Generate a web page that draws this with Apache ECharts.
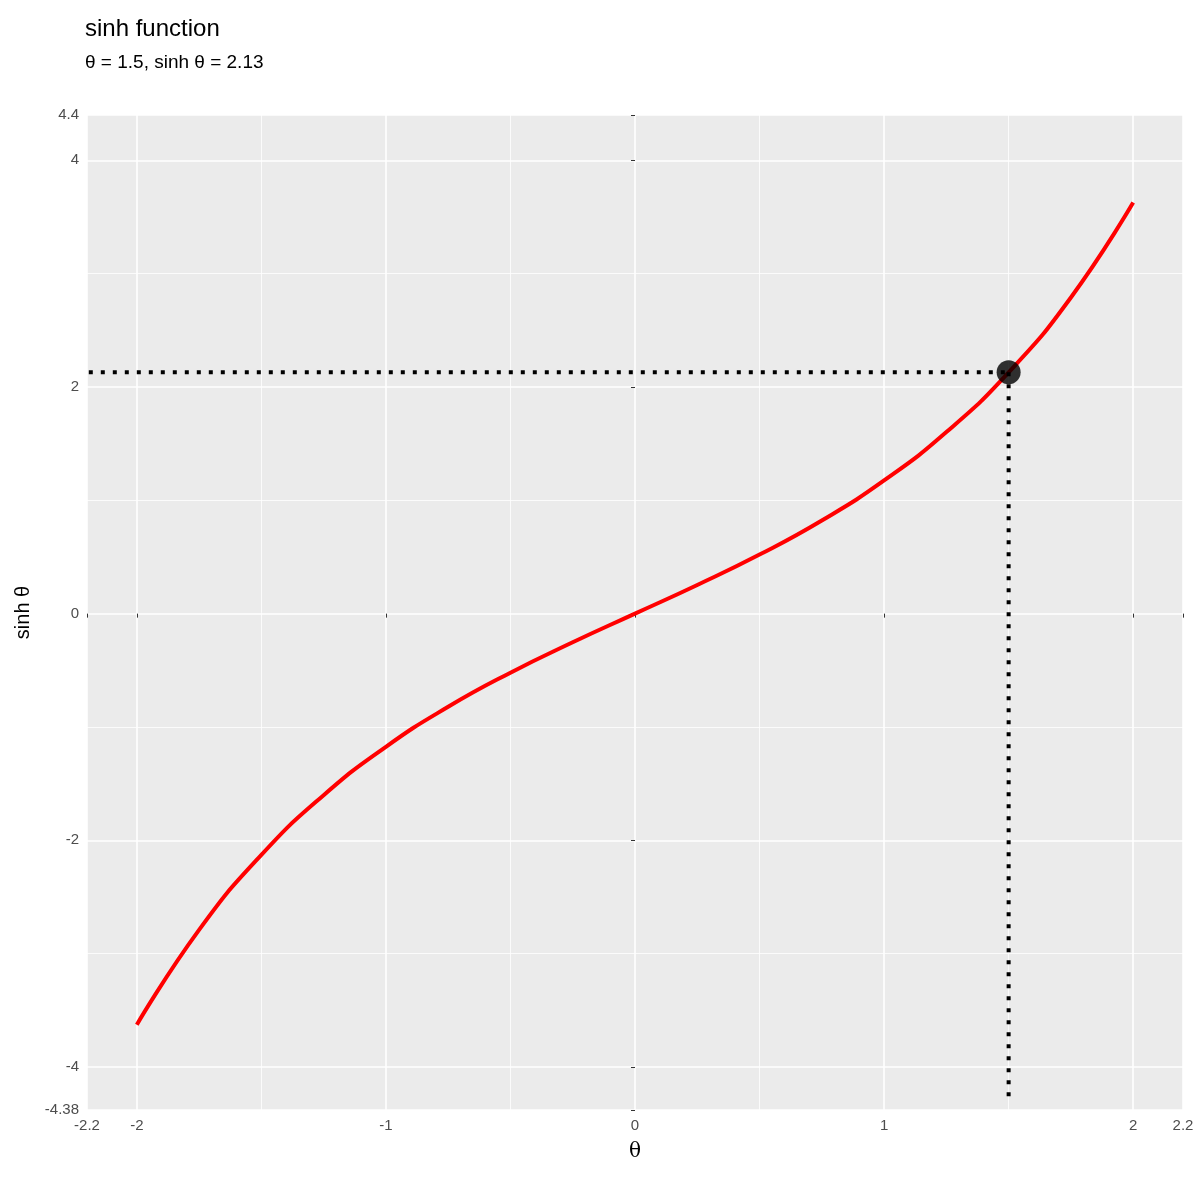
<!DOCTYPE html>
<html><head><meta charset="utf-8">
<script src="https://cdn.jsdelivr.net/npm/echarts@6/dist/echarts.min.js"></script>
<style>html,body{margin:0;padding:0;background:#fff}#c{width:1200px;height:1200px}</style>
</head><body><div id="c"></div>
<script>
const thetaVals = [-2,-1.75,-1.5,-1.25,-1,-0.75,-0.5,-0.25,0,0.25,0.5,0.75,1,1.25,1.5,1.75,2];
const sinhVals = [-3.627,-2.790,-2.129,-1.602,-1.175,-0.822,-0.521,-0.253,0,0.253,0.521,0.822,1.175,1.602,2.129,2.790,3.627];
const pointTheta = 1.5, pointSinh = 2.13;
const hLineX = [-2.53, 1.5];
const vLineY = [2.13, -4.33];
const titleText = 'sinh function';
const subText = 'θ = 1.5, sinh θ = 2.13';

const chart = echarts.init(document.getElementById('c'));
const lbl = {color:'#4D4D4D', fontSize:15, fontFamily:'Liberation Sans'};
chart.setOption({
  animation:false,
  title:{text:titleText, subtext:subText, left:80, top:12,
    textStyle:{fontSize:24, fontWeight:'normal', color:'#000', fontFamily:'Liberation Sans'},
    subtextStyle:{fontSize:19, color:'#000', fontFamily:'Liberation Sans'}, itemGap:12},
  grid:{left:87, right:17, top:115, bottom:90, show:true, backgroundColor:'#EBEBEB', borderWidth:0},
  xAxis:{type:'value', min:-2.2, max:2.2, splitNumber:4,
    name:'θ', nameLocation:'middle', nameGap:32, nameTextStyle:{fontSize:20, color:'#000', fontFamily:'DejaVu Serif'},
    axisLine:{show:false}, axisTick:{show:true, length:4, lineStyle:{color:'#333'}},
    axisLabel:Object.assign({margin:8}, lbl),
    splitLine:{lineStyle:{color:'#fff', width:1.6}},
    minorTick:{show:false, splitNumber:2}, minorSplitLine:{show:true, lineStyle:{color:'#fff', width:0.8}}},
  yAxis:{type:'value', min:-4.38, max:4.4, splitNumber:4,
    name:'sinh θ', nameLocation:'middle', nameGap:45, nameTextStyle:{fontSize:20, color:'#000', fontFamily:'Liberation Sans'},
    axisLine:{show:false}, axisTick:{show:true, length:4, lineStyle:{color:'#333'}},
    axisLabel:Object.assign({margin:8}, lbl),
    splitLine:{lineStyle:{color:'#fff', width:1.6}},
    minorTick:{show:false, splitNumber:2}, minorSplitLine:{show:true, lineStyle:{color:'#fff', width:0.8}}},
  series:[
    {type:'line', data:thetaVals.map((t,i)=>[t,sinhVals[i]]), smooth:true, showSymbol:false,
     lineStyle:{color:'#FF0000', width:4}},
    {type:'line', data:hLineX.map(x=>[x,pointSinh]), showSymbol:false, clip:false,
     lineStyle:{color:'#000', width:4, type:[4,8]}},
    {type:'line', data:vLineY.map(y=>[pointTheta,y]), showSymbol:false, clip:false,
     lineStyle:{color:'#000', width:4, type:[4,8]}},
    {type:'scatter', data:[[pointTheta,pointSinh]], symbolSize:24, itemStyle:{color:'#000'}, z:5}
  ]
});
</script></body></html>
